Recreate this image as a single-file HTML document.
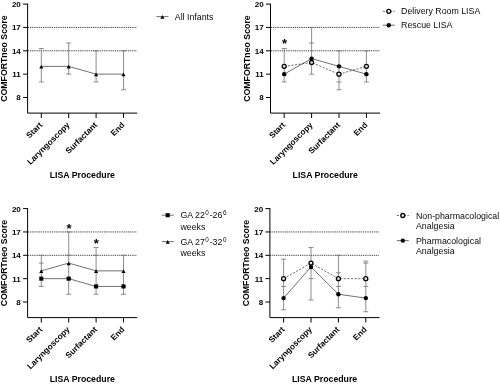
<!DOCTYPE html>
<html><head><meta charset="utf-8"><title>COMFORTneo Score during LISA Procedure</title>
<style>
html,body{margin:0;padding:0;background:#fff;}
body{width:500px;height:384px;overflow:hidden;}
svg{display:block;font-family:"Liberation Sans",Arial,sans-serif;}
.b{font-weight:bold;}
.tk{font-weight:bold;font-size:8px;}
.xl{font-weight:bold;font-size:8.25px;}
.ti{font-weight:bold;font-size:8.75px;}
.lg{font-size:8.8px;fill:#0a0a0a;}
.ax{stroke:#000;stroke-width:1;fill:none;}
.eb{stroke:#7a7a7a;stroke-width:0.85;fill:none;}
.ln{stroke:#111;stroke-width:0.6;fill:none;}
.dt{stroke:#1c1c1c;stroke-width:0.95;stroke-dasharray:0.95 0.9;fill:none;}
</style></head><body>
<svg width="500" height="384" viewBox="0 0 500 384">
<rect width="500" height="384" fill="#fff"/>
<g>
<line class="dt" x1="28.10" y1="27.45" x2="137.20" y2="27.45"/>
<line class="dt" x1="28.10" y1="50.80" x2="137.20" y2="50.80"/>
<path class="eb" d="M41.30 48.47V81.93M38.80 81.93h5M38.80 48.47h5"/>
<path class="eb" d="M68.70 43.02V74.15M66.20 74.15h5M66.20 43.02h5"/>
<path class="eb" d="M96.10 50.80V81.93M93.60 81.93h5M93.60 50.80h5"/>
<path class="eb" d="M123.50 50.80V89.72M121.00 89.72h5M121.00 50.80h5"/>
<polyline class="ln" points="41.30,66.37 68.70,66.37 96.10,74.15 123.50,74.15"/>
<path d="M41.30 64.67L43.35 68.57H39.25Z" fill="#000"/>
<path d="M68.70 64.67L70.75 68.57H66.65Z" fill="#000"/>
<path d="M96.10 72.45L98.15 76.35H94.05Z" fill="#000"/>
<path d="M123.50 72.45L125.55 76.35H121.45Z" fill="#000"/>
<path class="ax" d="M27.60 3.60V113.10H137.20"/>
<line class="ax" x1="23.10" y1="4.10" x2="27.60" y2="4.10"/>
<text class="tk" x="20.80" y="7.00" text-anchor="end">20</text>
<line class="ax" x1="23.10" y1="27.45" x2="27.60" y2="27.45"/>
<text class="tk" x="20.80" y="30.35" text-anchor="end">17</text>
<line class="ax" x1="23.10" y1="50.80" x2="27.60" y2="50.80"/>
<text class="tk" x="20.80" y="53.70" text-anchor="end">14</text>
<line class="ax" x1="23.10" y1="74.15" x2="27.60" y2="74.15"/>
<text class="tk" x="20.80" y="77.05" text-anchor="end">11</text>
<line class="ax" x1="23.10" y1="97.50" x2="27.60" y2="97.50"/>
<text class="tk" x="20.80" y="100.40" text-anchor="end">8</text>
<line class="ax" x1="41.30" y1="113.10" x2="41.30" y2="118.00"/>
<text class="xl" transform="translate(42.90 125.50) rotate(-45)" text-anchor="end">Start</text>
<line class="ax" x1="68.70" y1="113.10" x2="68.70" y2="118.00"/>
<text class="xl" transform="translate(70.30 125.50) rotate(-45)" text-anchor="end">Laryngoscopy</text>
<line class="ax" x1="96.10" y1="113.10" x2="96.10" y2="118.00"/>
<text class="xl" transform="translate(97.70 125.50) rotate(-45)" text-anchor="end">Surfactant</text>
<line class="ax" x1="123.50" y1="113.10" x2="123.50" y2="118.00"/>
<text class="xl" transform="translate(125.10 125.50) rotate(-45)" text-anchor="end">End</text>
<text class="ti" transform="translate(6.90 58.60) rotate(-90)" text-anchor="middle">COMFORTneo Score</text>
<text class="ti" x="82.30" y="178.00" text-anchor="middle">LISA Procedure</text>
<line class="ln" x1="156.40" y1="16.60" x2="168.40" y2="16.60"/>
<path d="M162.40 14.90L164.45 18.80H160.35Z" fill="#000"/>
<text class="lg" x="174.80" y="19.70">All Infants</text>
</g>
<g>
<line class="dt" x1="271.00" y1="27.45" x2="380.10" y2="27.45"/>
<line class="dt" x1="271.00" y1="50.80" x2="380.10" y2="50.80"/>
<path class="eb" d="M284.20 48.47V81.93M281.70 81.93h5M281.70 48.47h5"/>
<path class="eb" d="M311.60 27.45V74.15M309.10 74.15h5M309.10 43.02h5M309.10 27.45h5"/>
<path class="eb" d="M339.00 50.80V89.72M336.50 89.72h5M336.50 81.93h5M336.50 50.80h5"/>
<path class="eb" d="M366.40 50.80V81.93M363.90 81.93h5M363.90 50.80h5"/>
<polyline class="ln" points="284.20,66.37 311.60,62.48 339.00,74.15 366.40,66.37" stroke-dasharray="2.2 1.4"/>
<polyline class="ln" points="284.20,74.15 311.60,58.58 339.00,66.37 366.40,74.15"/>
<circle cx="284.20" cy="66.37" r="2.0" fill="#fff" fill-opacity="0.7" stroke="#000" stroke-width="1.3"/>
<circle cx="311.60" cy="62.48" r="2.0" fill="#fff" fill-opacity="0.7" stroke="#000" stroke-width="1.3"/>
<circle cx="339.00" cy="74.15" r="2.0" fill="#fff" fill-opacity="0.7" stroke="#000" stroke-width="1.3"/>
<circle cx="366.40" cy="66.37" r="2.0" fill="#fff" fill-opacity="0.7" stroke="#000" stroke-width="1.3"/>
<circle cx="284.20" cy="74.15" r="2.2" fill="#000"/>
<circle cx="311.60" cy="58.58" r="2.2" fill="#000"/>
<circle cx="339.00" cy="66.37" r="2.2" fill="#000"/>
<circle cx="366.40" cy="74.15" r="2.2" fill="#000"/>
<path class="ax" d="M270.50 3.60V113.10H380.10"/>
<line class="ax" x1="266.00" y1="4.10" x2="270.50" y2="4.10"/>
<text class="tk" x="263.70" y="7.00" text-anchor="end">20</text>
<line class="ax" x1="266.00" y1="27.45" x2="270.50" y2="27.45"/>
<text class="tk" x="263.70" y="30.35" text-anchor="end">17</text>
<line class="ax" x1="266.00" y1="50.80" x2="270.50" y2="50.80"/>
<text class="tk" x="263.70" y="53.70" text-anchor="end">14</text>
<line class="ax" x1="266.00" y1="74.15" x2="270.50" y2="74.15"/>
<text class="tk" x="263.70" y="77.05" text-anchor="end">11</text>
<line class="ax" x1="266.00" y1="97.50" x2="270.50" y2="97.50"/>
<text class="tk" x="263.70" y="100.40" text-anchor="end">8</text>
<line class="ax" x1="284.20" y1="113.10" x2="284.20" y2="118.00"/>
<text class="xl" transform="translate(285.80 125.50) rotate(-45)" text-anchor="end">Start</text>
<line class="ax" x1="311.60" y1="113.10" x2="311.60" y2="118.00"/>
<text class="xl" transform="translate(313.20 125.50) rotate(-45)" text-anchor="end">Laryngoscopy</text>
<line class="ax" x1="339.00" y1="113.10" x2="339.00" y2="118.00"/>
<text class="xl" transform="translate(340.60 125.50) rotate(-45)" text-anchor="end">Surfactant</text>
<line class="ax" x1="366.40" y1="113.10" x2="366.40" y2="118.00"/>
<text class="xl" transform="translate(368.00 125.50) rotate(-45)" text-anchor="end">End</text>
<text class="ti" transform="translate(249.80 58.60) rotate(-90)" text-anchor="middle">COMFORTneo Score</text>
<text class="ti" x="325.20" y="178.00" text-anchor="middle">LISA Procedure</text>
<text class="b" font-size="13" x="284.50" y="48.10" text-anchor="middle">*</text>
<line class="ln" x1="382.80" y1="11.30" x2="394.80" y2="11.30" stroke-dasharray="2.2 1.4"/>
<circle cx="388.80" cy="11.30" r="2.0" fill="#fff" fill-opacity="0.7" stroke="#000" stroke-width="1.3"/>
<text class="lg" x="401.10" y="14.40">Delivery Room LISA</text>
<line class="ln" x1="382.80" y1="25.20" x2="394.80" y2="25.20"/>
<circle cx="388.80" cy="25.20" r="2.2" fill="#000"/>
<text class="lg" x="401.10" y="28.30">Rescue LISA</text>
</g>
<g>
<line class="dt" x1="28.10" y1="231.95" x2="137.20" y2="231.95"/>
<line class="dt" x1="28.10" y1="255.30" x2="137.20" y2="255.30"/>
<path class="eb" d="M41.30 255.30V286.43M38.80 286.43h5M38.80 263.08h5M38.80 255.30h5"/>
<path class="eb" d="M68.70 231.95V294.22M66.20 294.22h5M66.20 278.65h5M66.20 255.30h5M66.20 231.95h5"/>
<path class="eb" d="M96.10 247.52V294.22M93.60 294.22h5M93.60 286.43h5M93.60 255.30h5M93.60 247.52h5"/>
<path class="eb" d="M123.50 255.30V294.22M121.00 294.22h5M121.00 286.43h5M121.00 255.30h5"/>
<polyline class="ln" points="41.30,278.65 68.70,278.65 96.10,286.43 123.50,286.43"/>
<polyline class="ln" points="41.30,270.87 68.70,263.08 96.10,270.87 123.50,270.87"/>
<rect x="39.25" y="276.60" width="4.1" height="4.1" fill="#000"/>
<rect x="66.65" y="276.60" width="4.1" height="4.1" fill="#000"/>
<rect x="94.05" y="284.38" width="4.1" height="4.1" fill="#000"/>
<rect x="121.45" y="284.38" width="4.1" height="4.1" fill="#000"/>
<path d="M41.30 269.17L43.35 273.07H39.25Z" fill="#000"/>
<path d="M68.70 261.38L70.75 265.28H66.65Z" fill="#000"/>
<path d="M96.10 269.17L98.15 273.07H94.05Z" fill="#000"/>
<path d="M123.50 269.17L125.55 273.07H121.45Z" fill="#000"/>
<path class="ax" d="M27.60 208.10V317.60H137.20"/>
<line class="ax" x1="23.10" y1="208.60" x2="27.60" y2="208.60"/>
<text class="tk" x="20.80" y="211.50" text-anchor="end">20</text>
<line class="ax" x1="23.10" y1="231.95" x2="27.60" y2="231.95"/>
<text class="tk" x="20.80" y="234.85" text-anchor="end">17</text>
<line class="ax" x1="23.10" y1="255.30" x2="27.60" y2="255.30"/>
<text class="tk" x="20.80" y="258.20" text-anchor="end">14</text>
<line class="ax" x1="23.10" y1="278.65" x2="27.60" y2="278.65"/>
<text class="tk" x="20.80" y="281.55" text-anchor="end">11</text>
<line class="ax" x1="23.10" y1="302.00" x2="27.60" y2="302.00"/>
<text class="tk" x="20.80" y="304.90" text-anchor="end">8</text>
<line class="ax" x1="41.30" y1="317.60" x2="41.30" y2="322.50"/>
<text class="xl" transform="translate(42.90 330.00) rotate(-45)" text-anchor="end">Start</text>
<line class="ax" x1="68.70" y1="317.60" x2="68.70" y2="322.50"/>
<text class="xl" transform="translate(70.30 330.00) rotate(-45)" text-anchor="end">Laryngoscopy</text>
<line class="ax" x1="96.10" y1="317.60" x2="96.10" y2="322.50"/>
<text class="xl" transform="translate(97.70 330.00) rotate(-45)" text-anchor="end">Surfactant</text>
<line class="ax" x1="123.50" y1="317.60" x2="123.50" y2="322.50"/>
<text class="xl" transform="translate(125.10 330.00) rotate(-45)" text-anchor="end">End</text>
<text class="ti" transform="translate(6.90 263.10) rotate(-90)" text-anchor="middle">COMFORTneo Score</text>
<text class="ti" x="82.30" y="381.70" text-anchor="middle">LISA Procedure</text>
<text class="b" font-size="13" x="69.00" y="232.90" text-anchor="middle">*</text>
<text class="b" font-size="13" x="96.40" y="248.10" text-anchor="middle">*</text>
<line class="ln" x1="161.70" y1="215.20" x2="173.70" y2="215.20"/>
<rect x="165.65" y="213.15" width="4.1" height="4.1" fill="#000"/>
<text class="lg" x="180.40" y="218.30">GA 22<tspan font-size="6.3" dy="-3.2" dx="0.5">0</tspan><tspan dy="3.2" dx="0.8">-26</tspan><tspan font-size="6.3" dy="-3.2" dx="0.5">6</tspan></text>
<text class="lg" x="180.40" y="229.60">weeks</text>
<line class="ln" x1="161.70" y1="241.60" x2="173.70" y2="241.60"/>
<path d="M167.70 239.90L169.75 243.80H165.65Z" fill="#000"/>
<text class="lg" x="180.40" y="244.70">GA 27<tspan font-size="6.3" dy="-3.2" dx="0.5">0</tspan><tspan dy="3.2" dx="0.8">-32</tspan><tspan font-size="6.3" dy="-3.2" dx="0.5">0</tspan></text>
<text class="lg" x="180.40" y="256.00">weeks</text>
</g>
<g>
<line class="dt" x1="270.40" y1="231.95" x2="379.50" y2="231.95"/>
<line class="dt" x1="270.40" y1="255.30" x2="379.50" y2="255.30"/>
<path class="eb" d="M283.60 259.19V309.78M281.10 309.78h5M281.10 286.43h5M281.10 259.19h5"/>
<path class="eb" d="M311.00 247.52V300.05M308.50 300.05h5M308.50 278.65h5M308.50 247.52h5"/>
<path class="eb" d="M338.40 255.30V307.84M335.90 307.84h5M335.90 286.43h5M335.90 272.81h5M335.90 255.30h5"/>
<path class="eb" d="M365.80 261.14V311.73M363.30 311.73h5M363.30 286.43h5M363.30 263.08h5M363.30 261.14h5"/>
<polyline class="ln" points="283.60,278.65 311.00,263.08 338.40,278.65 365.80,278.65" stroke-dasharray="2.2 1.4"/>
<polyline class="ln" points="283.60,298.11 311.00,266.98 338.40,294.22 365.80,298.11"/>
<circle cx="283.60" cy="278.65" r="2.0" fill="#fff" fill-opacity="0.7" stroke="#000" stroke-width="1.3"/>
<circle cx="311.00" cy="263.08" r="2.0" fill="#fff" fill-opacity="0.7" stroke="#000" stroke-width="1.3"/>
<circle cx="338.40" cy="278.65" r="2.0" fill="#fff" fill-opacity="0.7" stroke="#000" stroke-width="1.3"/>
<circle cx="365.80" cy="278.65" r="2.0" fill="#fff" fill-opacity="0.7" stroke="#000" stroke-width="1.3"/>
<circle cx="283.60" cy="298.11" r="2.2" fill="#000"/>
<circle cx="311.00" cy="266.98" r="2.2" fill="#000"/>
<circle cx="338.40" cy="294.22" r="2.2" fill="#000"/>
<circle cx="365.80" cy="298.11" r="2.2" fill="#000"/>
<path class="ax" d="M269.90 208.10V317.60H379.50"/>
<line class="ax" x1="265.40" y1="208.60" x2="269.90" y2="208.60"/>
<text class="tk" x="263.10" y="211.50" text-anchor="end">20</text>
<line class="ax" x1="265.40" y1="231.95" x2="269.90" y2="231.95"/>
<text class="tk" x="263.10" y="234.85" text-anchor="end">17</text>
<line class="ax" x1="265.40" y1="255.30" x2="269.90" y2="255.30"/>
<text class="tk" x="263.10" y="258.20" text-anchor="end">14</text>
<line class="ax" x1="265.40" y1="278.65" x2="269.90" y2="278.65"/>
<text class="tk" x="263.10" y="281.55" text-anchor="end">11</text>
<line class="ax" x1="265.40" y1="302.00" x2="269.90" y2="302.00"/>
<text class="tk" x="263.10" y="304.90" text-anchor="end">8</text>
<line class="ax" x1="283.60" y1="317.60" x2="283.60" y2="322.50"/>
<text class="xl" transform="translate(285.20 330.00) rotate(-45)" text-anchor="end">Start</text>
<line class="ax" x1="311.00" y1="317.60" x2="311.00" y2="322.50"/>
<text class="xl" transform="translate(312.60 330.00) rotate(-45)" text-anchor="end">Laryngoscopy</text>
<line class="ax" x1="338.40" y1="317.60" x2="338.40" y2="322.50"/>
<text class="xl" transform="translate(340.00 330.00) rotate(-45)" text-anchor="end">Surfactant</text>
<line class="ax" x1="365.80" y1="317.60" x2="365.80" y2="322.50"/>
<text class="xl" transform="translate(367.40 330.00) rotate(-45)" text-anchor="end">End</text>
<text class="ti" transform="translate(249.20 263.10) rotate(-90)" text-anchor="middle">COMFORTneo Score</text>
<text class="ti" x="324.60" y="381.70" text-anchor="middle">LISA Procedure</text>
<line class="ln" x1="396.80" y1="215.50" x2="408.80" y2="215.50" stroke-dasharray="2.2 1.4"/>
<circle cx="402.80" cy="215.50" r="2.0" fill="#fff" fill-opacity="0.7" stroke="#000" stroke-width="1.3"/>
<text class="lg" x="416.00" y="218.60">Non-pharmacological</text>
<text class="lg" x="416.00" y="229.10">Analgesia</text>
<line class="ln" x1="396.80" y1="240.60" x2="408.80" y2="240.60"/>
<circle cx="402.80" cy="240.60" r="2.2" fill="#000"/>
<text class="lg" x="416.00" y="243.70">Pharmacological</text>
<text class="lg" x="416.00" y="254.20">Analgesia</text>
</g>
</svg>
</body></html>
